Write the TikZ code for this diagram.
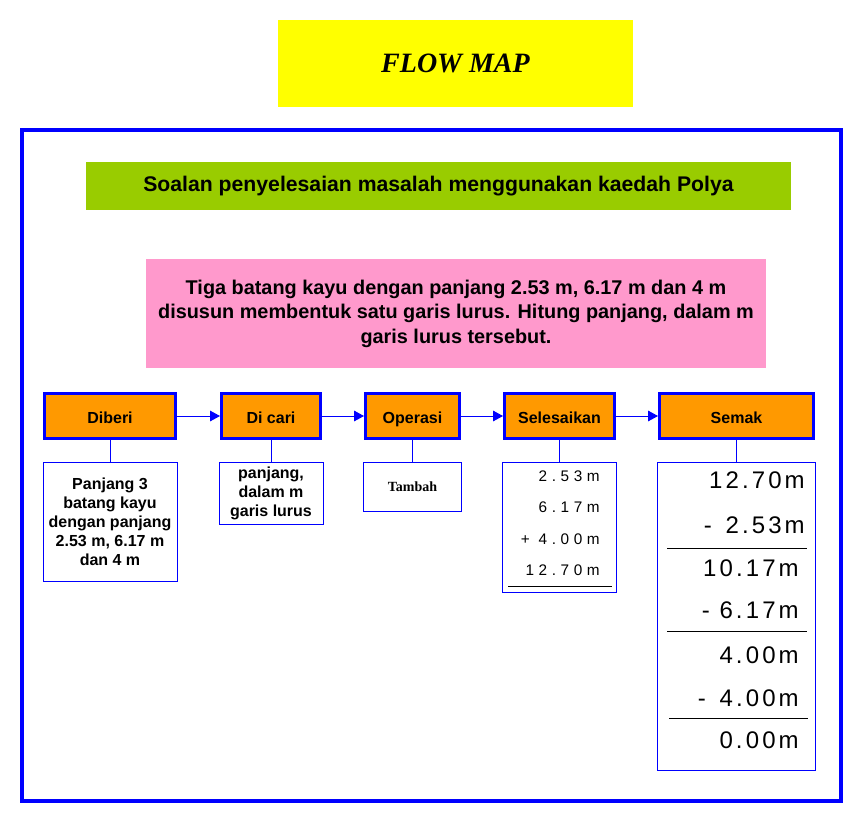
\documentclass[tikz,border=0pt]{standalone}
\usepackage{fontspec}
\setmainfont{Liberation Sans}
\newfontfamily\tambahfont{Liberation Serif}
\newfontfamily\titlefont{Liberation Serif}
\newfontfamily\sumfont[LetterSpace=30]{Liberation Sans}
\newfontfamily\checkfont[LetterSpace=13]{Liberation Sans}
\usetikzlibrary{arrows.meta}

\definecolor{flowyellow}{RGB}{255,255,0}
\definecolor{polyagreen}{RGB}{153,204,0}
\definecolor{soalanpink}{RGB}{255,153,204}
\definecolor{stageorange}{RGB}{255,153,0}

\tikzset{
    stage/.style={draw=blue, line width=2.25pt, fill=stageorange, inner sep=0pt,
        minimum height=33.75pt, text height=12.5pt, text depth=2pt,
        font=\bfseries\fontsize{12}{13}\selectfont},
    detail/.style={draw=blue, line width=0.75pt, fill=white, inner sep=0pt,
        align=center, font=\bfseries\fontsize{12}{14.25}\selectfont},
    link/.style={blue, line width=0.75pt, -{Triangle[length=7.5pt,width=8pt]}},
    stem/.style={blue, line width=0.75pt},
    sumrow/.style={anchor=east, inner sep=0pt, font=\sumfont\fontsize{11.5}{13}\selectfont},
    checkrow/.style={anchor=east, inner sep=0pt, font=\checkfont\fontsize{18}{21}\selectfont},
    rule/.style={black, line width=0.75pt}
}

\begin{document}
\begin{tikzpicture}[x=0.75pt, y=-0.75pt]
    \useasboundingbox[fill=white] (0,0) rectangle (865,825);

    % title and frame
    \node[fill=flowyellow, minimum width=266.25pt, minimum height=65.25pt,
        font=\titlefont\bfseries\itshape\fontsize{21}{24}\selectfont] (title) at (455.5,63.5) {FLOW MAP};
    \draw[blue, line width=3pt] (22,130) rectangle (841,801);

    \node[fill=polyagreen, minimum width=528.75pt, minimum height=36pt,
        font=\bfseries\fontsize{15.9}{18}\selectfont] (polya) at (438.5,186)
        {Soalan penyelesaian masalah menggunakan kaedah Polya};

    \node[fill=soalanpink, minimum width=465pt, minimum height=81.75pt, align=center,
        font=\bfseries\fontsize{14.9}{18.4}\selectfont] (soalan) at (456,313.5)
        {Tiga batang kayu dengan panjang 2.53 m, 6.17 m dan 4 m\\
         disusun membentuk satu garis lurus. Hitung panjang, dalam m\\
         garis lurus tersebut.};

    % steps
    \node[stage, minimum width=98.25pt] (diberi) at (110,416) {Diberi};
    \node[stage, minimum width=74.25pt] (dicari) at (271,416) {Di cari};
    \node[stage, minimum width=70.5pt] (operasi) at (412.5,416) {Operasi};
    \node[stage, minimum width=82.5pt] (selesai) at (559.5,416) {Selesaikan};
    \node[stage, minimum width=115.5pt] (semak) at (736.5,416) {Semak};

    \draw[link] (diberi) -- (dicari);
    \draw[link] (dicari) -- (operasi);
    \draw[link] (operasi) -- (selesai);
    \draw[link] (selesai) -- (semak);

    % details
    \node[detail, minimum width=100.5pt, minimum height=89.25pt] (diberiA) at (110,521.5)
        {Panjang 3\\ batang kayu\\ dengan panjang\\ 2.53 m, 6.17 m\\ dan 4 m};
    \node[detail, minimum width=78pt, minimum height=46.5pt] (dicariA) at (271,493)
        {panjang,\\ dalam m\\ garis lurus};
    \node[detail, minimum width=73.5pt, minimum height=36.75pt,
        font=\tambahfont\bfseries\fontsize{10.5}{12}\selectfont] (operasiA) at (412.5,486.5) {Tambah};
    \node[detail, minimum width=85.5pt, minimum height=97.5pt] (selesaiA) at (559.5,527) {};
    \node[detail, minimum width=118.5pt, minimum height=231pt] (semakA) at (736.5,616) {};

    \draw[stem] (diberi) -- (diberiA);
    \draw[stem] (dicari) -- (dicariA);
    \draw[stem] (operasi) -- (operasiA);
    \draw[stem] (selesai) -- (selesaiA);
    \draw[stem] (semak) -- (semakA);

    % sum
    \node[sumrow] (s1) at (600,476) {2.53m};
    \node[sumrow] (s2) at (600,507) {6.17m};
    \node[sumrow] (s3) at (600,539) {+ 4.00m};
    \node[sumrow] (s4) at (600,570) {12.70m};
    \draw[rule] (508,586) -- (612,586);

    % check
    \node[checkrow] (k1) at (805,480) {12.70m};
    \node[checkrow] (k2) at (805,525) {- \,2.53m};
    \node[checkrow] (k3) at (799,568) {10.17m};
    \node[checkrow] (k4) at (799,610) {- 6.17m};
    \node[checkrow] (k5) at (799,655) {4.00m};
    \node[checkrow] (k6) at (799,698) {- \,4.00m};
    \node[checkrow] (k7) at (799,740) {0.00m};
    \draw[rule] (667,548) -- (807,548);
    \draw[rule] (667,631) -- (807,631);
    \draw[rule] (669,718) -- (808,718);
\end{tikzpicture}
\end{document}
